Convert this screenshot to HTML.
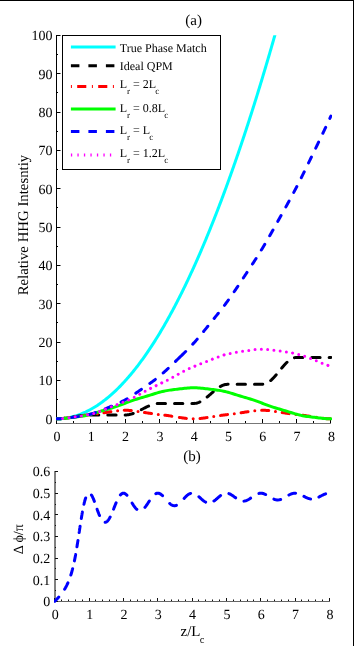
<!DOCTYPE html><html><head><meta charset="utf-8"><style>html,body{margin:0;padding:0;background:#fff;}svg{display:block;will-change:transform}text{font-family:"Liberation Serif",serif;fill:#000;text-rendering:geometricPrecision}</style></head><body>
<svg width="354" height="646" viewBox="0 0 354 646">
<rect x="0" y="0" width="354" height="646" fill="#fff"/>
<defs><clipPath id="cu"><rect x="56" y="35.20" width="276" height="388.30"/></clipPath>
<clipPath id="cl"><rect x="54" y="471.58" width="277" height="132.72"/></clipPath></defs>
<path d="M56,418.5h4.5 M56,380.5h4.5 M56,342.5h4.5 M56,303.5h4.5 M56,265.5h4.5 M56,227.5h4.5 M56,188.5h4.5 M56,150.5h4.5 M56,112.5h4.5 M56,73.5h4.5 M56,35.5h4.5 M56,399.5h2 M56,361.5h2 M56,322.5h2 M56,284.5h2 M56,246.5h2 M56,207.5h2 M56,169.5h2 M56,131.5h2 M56,92.5h2 M56,54.5h2 M56.5,423v-4 M90.5,423v-4 M125.5,423v-4 M159.5,423v-4 M193.5,423v-4 M228.5,423v-4 M262.5,423v-4 M296.5,423v-4 M330.5,423v-4 M73.5,423v-2 M107.5,423v-2 M142.5,423v-2 M176.5,423v-2 M210.5,423v-2 M245.5,423v-2 M279.5,423v-2 M313.5,423v-2" stroke="#000" stroke-width="1" fill="none"/>
<path d="M56.5,35.00 V423" stroke="#000" stroke-width="1"/>
<path d="M57,423.5 H331.0" stroke="#777" stroke-width="1"/>
<path d="M56,423 h1 v1 h-1z" fill="#000"/>
<g clip-path="url(#cu)" fill="none" stroke-width="3.0" stroke-linecap="round">
<path d="M56.50,418.80 L58.00,418.78 L59.51,418.73 L61.01,418.64 L62.50,418.51 L64.00,418.35 L65.49,418.15 L66.97,417.92 L68.45,417.65 L69.92,417.35 L71.39,417.02 L72.85,416.65 L74.30,416.25 L75.74,415.82 L77.17,415.36 L78.59,414.88 L80.00,414.36 L81.40,413.81 L82.79,413.24 L84.17,412.64 L85.54,412.02 L86.89,411.37 L88.24,410.70 L89.57,410.00 L90.89,409.29 L92.20,408.55 L93.50,407.79 L94.79,407.01 L96.06,406.21 L97.32,405.40 L98.57,404.56 L99.81,403.71 L101.04,402.85 L102.25,401.96 L103.46,401.06 L104.65,400.15 L105.84,399.22 L107.01,398.28 L108.17,397.33 L109.32,396.36 L110.46,395.38 L111.59,394.39 L112.71,393.39 L113.82,392.37 L114.92,391.35 L116.01,390.32 L117.09,389.27 L118.16,388.22 L119.23,387.15 L120.28,386.08 L121.32,385.00 L122.36,383.91 L123.39,382.82 L124.41,381.71 L125.42,380.60 L126.42,379.48 L127.42,378.35 L128.40,377.22 L129.38,376.08 L130.35,374.93 L131.32,373.78 L132.28,372.62 L133.22,371.45 L134.17,370.28 L135.10,369.11 L136.03,367.92 L136.95,366.74 L137.87,365.55 L138.78,364.35 L139.68,363.15 L140.58,361.94 L141.47,360.73 L142.35,359.52 L143.23,358.30 L144.11,357.07 L144.97,355.84 L145.83,354.61 L146.69,353.38 L147.54,352.14 L148.39,350.89 L149.22,349.65 L150.06,348.40 L150.89,347.14 L151.71,345.89 L152.53,344.63 L153.35,343.36 L154.16,342.10 L154.96,340.83 L155.76,339.55 L156.56,338.28 L157.35,337.00 L158.13,335.72 L158.92,334.44 L159.69,333.15 L160.47,331.86 L161.24,330.57 L162.00,329.28 L162.76,327.98 L163.52,326.68 L164.27,325.38 L165.02,324.08 L165.77,322.77 L166.51,321.46 L167.25,320.16 L167.98,318.84 L168.71,317.53 L169.44,316.21 L170.16,314.90 L170.88,313.58 L171.60,312.25 L172.31,310.93 L173.02,309.61 L173.72,308.28 L174.43,306.95 L175.13,305.62 L175.82,304.29 L176.51,302.95 L177.20,301.62 L177.89,300.28 L178.57,298.94 L179.25,297.60 L179.93,296.26 L180.61,294.92 L181.28,293.57 L181.95,292.23 L182.61,290.88 L183.28,289.53 L183.94,288.18 L184.59,286.83 L185.25,285.48 L185.90,284.12 L186.55,282.77 L187.20,281.41 L187.84,280.05 L188.48,278.69 L189.12,277.33 L189.76,275.97 L190.39,274.61 L191.03,273.24 L191.66,271.88 L192.28,270.51 L192.91,269.15 L193.53,267.78 L194.15,266.41 L194.77,265.04 L195.38,263.67 L195.99,262.29 L196.61,260.92 L197.21,259.55 L197.82,258.17 L198.42,256.79 L199.03,255.42 L199.63,254.04 L200.22,252.66 L200.82,251.28 L201.41,249.90 L202.01,248.52 L202.59,247.13 L203.18,245.75 L203.77,244.37 L204.35,242.98 L204.93,241.59 L205.51,240.21 L206.09,238.82 L206.67,237.43 L207.24,236.04 L207.81,234.65 L208.38,233.26 L208.95,231.87 L209.52,230.48 L210.08,229.09 L210.65,227.69 L211.21,226.30 L211.77,224.90 L212.32,223.51 L212.88,222.11 L213.43,220.71 L213.99,219.32 L214.54,217.92 L215.09,216.52 L215.64,215.12 L216.18,213.72 L216.73,212.32 L217.27,210.92 L217.81,209.51 L218.35,208.11 L218.89,206.71 L219.43,205.30 L219.96,203.90 L220.49,202.49 L221.03,201.09 L221.56,199.68 L222.09,198.27 L222.61,196.87 L223.14,195.46 L223.66,194.05 L224.19,192.64 L224.71,191.23 L225.23,189.82 L225.75,188.41 L226.27,187.00 L226.78,185.59 L227.30,184.18 L227.81,182.76 L228.32,181.35 L228.83,179.94 L229.34,178.52 L229.85,177.11 L230.36,175.69 L230.86,174.28 L231.37,172.86 L231.87,171.44 L232.37,170.03 L232.87,168.61 L233.37,167.19 L233.87,165.77 L234.36,164.35 L234.86,162.94 L235.35,161.52 L235.85,160.10 L236.34,158.68 L236.83,157.25 L237.32,155.83 L237.81,154.41 L238.29,152.99 L238.78,151.57 L239.26,150.14 L239.75,148.72 L240.23,147.30 L240.71,145.87 L241.19,144.45 L241.67,143.02 L242.15,141.60 L242.62,140.17 L243.10,138.75 L243.57,137.32 L244.05,135.90 L244.52,134.47 L244.99,133.04 L245.46,131.61 L245.93,130.19 L246.40,128.76 L246.87,127.33 L247.33,125.90 L247.80,124.47 L248.26,123.04 L248.72,121.61 L249.19,120.18 L249.65,118.75 L250.11,117.32 L250.57,115.89 L251.02,114.46 L251.48,113.02 L251.94,111.59 L252.39,110.16 L252.85,108.73 L253.30,107.29 L253.75,105.86 L254.20,104.43 L254.65,102.99 L255.10,101.56 L255.55,100.12 L256.00,98.69 L256.45,97.25 L256.89,95.82 L257.34,94.38 L257.78,92.95 L258.22,91.51 L258.67,90.07 L259.11,88.64 L259.55,87.20 L259.99,85.76 L260.43,84.32 L260.86,82.89 L261.30,81.45 L261.74,80.01 L262.17,78.57 L262.61,77.13 L263.04,75.69 L263.47,74.25 L263.91,72.81 L264.34,71.37 L264.77,69.93 L265.20,68.49 L265.63,67.05 L266.05,65.61 L266.48,64.17 L266.91,62.73 L267.33,61.29 L267.76,59.85 L268.18,58.40 L268.60,56.96 L269.03,55.52 L269.45,54.08 L269.87,52.63 L270.29,51.19 L270.71,49.75 L271.13,48.30 L271.54,46.86 L271.96,45.41 L272.38,43.97 L272.79,42.53 L273.21,41.08 L273.62,39.64 L274.04,38.19 L274.45,36.75 L274.86,35.30" stroke="#0ff"/>
<path d="M56.50,418.80 L57.50,418.79 L58.50,418.77 L59.50,418.73 L60.50,418.67 L61.50,418.60 L62.50,418.52 L63.50,418.42 L64.37,418.32 M73.28,416.95 L73.40,416.93 L74.38,416.75 L75.37,416.58 L76.36,416.41 L77.34,416.25 L78.33,416.09 L79.32,415.93 L80.31,415.78 L81.30,415.65 L81.46,415.63 M90.46,414.97 L91.29,414.97 L92.29,414.97 L93.29,414.97 L94.29,414.97 L95.29,414.97 L96.29,414.97 L97.29,414.97 L98.30,414.97 L98.76,414.97 M107.80,414.97 L108.31,414.97 L109.31,414.97 L110.31,414.97 L111.31,414.97 L112.31,414.97 L113.32,414.97 L114.32,414.97 L115.32,414.97 L116.10,414.97 M125.14,414.96 L125.33,414.96 L126.33,414.93 L127.33,414.84 L128.32,414.71 L129.31,414.54 L130.29,414.33 L131.26,414.07 L132.21,413.78 L133.16,413.46 L133.23,413.44 M141.31,409.70 L141.34,409.69 L142.22,409.22 L143.11,408.75 L144.00,408.29 L144.89,407.83 L145.78,407.38 L146.68,406.94 L147.58,406.51 L148.50,406.09 L148.61,406.04 M157.20,403.58 L158.11,403.50 L159.11,403.46 L160.11,403.46 L161.12,403.46 L162.12,403.46 L163.12,403.46 L164.12,403.46 L165.12,403.46 L165.50,403.46 M174.54,403.46 L175.14,403.46 L176.14,403.46 L177.14,403.46 L178.14,403.46 L179.14,403.46 L180.14,403.46 L181.14,403.46 L182.14,403.46 L182.84,403.46 M191.88,403.46 L192.16,403.46 L193.16,403.46 L194.16,403.45 L195.16,403.37 L196.15,403.22 L197.12,402.99 L198.08,402.69 L199.02,402.34 L199.91,401.95 M207.18,397.02 L207.36,396.87 L208.13,396.23 L208.89,395.58 L209.64,394.92 L210.40,394.26 L211.15,393.60 L211.90,392.94 L212.66,392.28 L213.25,391.77 M220.31,386.57 L220.70,386.34 L221.59,385.89 L222.50,385.47 L223.43,385.11 L224.38,384.80 L225.36,384.56 L226.34,384.39 L227.34,384.30 L228.12,384.29 M237.16,384.28 L237.35,384.28 L238.36,384.28 L239.36,384.28 L240.36,384.28 L241.36,384.28 L242.36,384.28 L243.36,384.28 L244.36,384.28 L245.36,384.28 L245.46,384.28 M254.50,384.28 L255.38,384.28 L256.38,384.28 L257.38,384.28 L258.38,384.28 L259.38,384.28 L260.39,384.28 L261.39,384.28 L262.39,384.28 L262.80,384.26 M270.68,380.51 L271.22,380.04 L271.95,379.36 L272.67,378.66 L273.37,377.94 L274.05,377.21 L274.73,376.47 L275.39,375.72 L276.04,374.96 L276.20,374.78 M281.68,368.12 L281.77,368.01 L282.42,367.24 L283.07,366.48 L283.72,365.72 L284.39,364.98 L285.07,364.24 L285.76,363.51 L286.47,362.80 L287.03,362.26 M294.48,357.70 L294.86,357.61 L295.85,357.47 L296.85,357.44 L297.85,357.44 L298.86,357.44 L299.86,357.44 L300.86,357.44 L301.86,357.44 L302.76,357.44 M311.80,357.44 L311.87,357.44 L312.88,357.44 L313.88,357.44 L314.88,357.44 L315.88,357.44 L316.88,357.44 L317.88,357.44 L318.88,357.44 L319.88,357.44 L320.10,357.44 M329.14,357.44 L329.90,357.44 L330.90,357.44" stroke="#000"/>
<path d="M56.78,418.80 L56.79,418.80 M63.37,418.44 L63.51,418.42 L64.50,418.31 L65.50,418.19 L66.49,418.06 L67.48,417.93 L68.48,417.78 L69.47,417.63 L70.39,417.48 M77.09,416.39 L77.10,416.39 M83.60,415.42 L84.33,415.33 L85.32,415.20 L86.32,415.07 L87.32,414.95 L88.31,414.83 L89.31,414.71 L90.30,414.60 L90.64,414.56 M97.38,413.74 L97.39,413.73 M103.90,412.79 L104.21,412.74 L105.20,412.58 L106.19,412.42 L107.18,412.26 L108.17,412.09 L109.16,411.93 L110.15,411.77 L110.89,411.65 M117.62,410.71 L117.63,410.71 M124.20,410.29 L125.10,410.28 L126.10,410.29 L127.11,410.31 L128.11,410.35 L129.11,410.41 L130.11,410.48 L131.11,410.56 L131.29,410.58 M138.02,411.44 L138.03,411.44 M144.52,412.50 L145.00,412.58 L145.99,412.74 L146.98,412.89 L147.97,413.05 L148.96,413.20 L149.95,413.34 L150.94,413.48 L151.53,413.56 M158.27,414.41 L158.28,414.41 M164.81,415.19 L164.88,415.20 L165.87,415.33 L166.86,415.46 L167.86,415.60 L168.85,415.74 L169.84,415.88 L170.83,416.03 L171.82,416.18 L171.83,416.18 M179.37,417.41 L179.74,417.47 L180.73,417.63 L181.72,417.78 L182.72,417.93 L183.71,418.06 L184.70,418.19 L185.70,418.31 L186.39,418.39 M193.17,418.80 L193.18,418.80 M200.02,418.49 L200.71,418.42 L201.70,418.31 L202.70,418.19 L203.69,418.06 L204.68,417.93 L205.68,417.78 L206.67,417.63 L207.04,417.57 M213.74,416.47 L213.75,416.47 M220.51,415.46 L220.54,415.46 L221.53,415.33 L222.52,415.20 L223.52,415.07 L224.52,414.95 L225.51,414.83 L226.51,414.71 L227.50,414.60 L227.55,414.59 M234.29,413.77 L234.30,413.77 M241.07,412.79 L241.41,412.74 L242.40,412.58 L243.39,412.42 L244.38,412.26 L245.37,412.09 L246.36,411.93 L247.35,411.77 L248.06,411.65 M254.79,410.71 L254.80,410.71 M261.63,410.28 L262.30,410.28 L263.30,410.29 L264.31,410.31 L265.31,410.35 L266.31,410.41 L267.31,410.48 L268.31,410.56 L268.71,410.60 M275.45,411.48 L275.46,411.48 M282.20,412.58 L283.19,412.74 L284.18,412.89 L285.17,413.05 L286.16,413.20 L287.15,413.34 L288.14,413.48 L289.14,413.62 L289.21,413.63 M295.95,414.46 L295.96,414.46 M302.75,415.29 L303.07,415.33 L304.06,415.46 L305.06,415.60 L306.05,415.74 L307.04,415.88 L308.03,416.03 L309.02,416.18 L309.77,416.30 M316.46,417.39 L316.47,417.40 M323.25,418.35 L323.89,418.42 L324.89,418.52 L325.89,418.60 L326.89,418.67 L327.89,418.73 L328.89,418.77 L329.90,418.79 L330.33,418.80" stroke="#f00"/>
<path d="M56.50,418.80 L58.00,418.78 L59.51,418.73 L61.01,418.64 L62.51,418.53 L64.01,418.39 L65.50,418.23 L67.00,418.06 L68.49,417.89 L69.98,417.71 L71.48,417.53 L72.97,417.35 L74.46,417.17 L75.96,416.99 L77.45,416.81 L78.94,416.61 L80.43,416.41 L81.92,416.18 L83.40,415.93 L84.88,415.66 L86.35,415.35 L87.82,415.02 L89.28,414.66 L90.73,414.27 L92.18,413.86 L93.62,413.43 L95.06,412.99 L96.50,412.54 L97.93,412.09 L99.37,411.64 L100.80,411.19 L102.24,410.75 L103.68,410.32 L105.12,409.89 L106.57,409.47 L108.01,409.05 L109.46,408.63 L110.90,408.21 L112.34,407.78 L113.78,407.34 L115.21,406.88 L116.64,406.41 L118.06,405.92 L119.48,405.41 L120.89,404.89 L122.30,404.36 L123.70,403.82 L125.10,403.27 L126.50,402.72 L127.90,402.18 L129.31,401.65 L130.72,401.13 L132.14,400.62 L133.56,400.13 L134.99,399.66 L136.42,399.20 L137.86,398.76 L139.30,398.33 L140.74,397.91 L142.19,397.49 L143.63,397.07 L145.08,396.65 L146.52,396.23 L147.96,395.79 L149.40,395.35 L150.83,394.90 L152.27,394.45 L153.70,394.00 L155.14,393.55 L156.58,393.11 L158.02,392.68 L159.47,392.27 L160.92,391.88 L162.38,391.52 L163.85,391.19 L165.32,390.89 L166.80,390.61 L168.28,390.36 L169.77,390.14 L171.26,389.93 L172.75,389.73 L174.24,389.55 L175.74,389.37 L177.23,389.19 L178.72,389.01 L180.22,388.83 L181.71,388.65 L183.20,388.48 L184.70,388.31 L186.19,388.15 L187.69,388.01 L189.19,387.90 L190.69,387.81 L192.20,387.76 L193.70,387.74 L195.20,387.76 L196.71,387.81 L198.21,387.90 L199.71,388.01 L201.21,388.15 L202.70,388.31 L204.20,388.48 L205.69,388.65 L207.18,388.83 L208.68,389.01 L210.17,389.19 L211.66,389.37 L213.16,389.55 L214.65,389.73 L216.14,389.93 L217.63,390.14 L219.12,390.36 L220.60,390.61 L222.08,390.89 L223.55,391.19 L225.02,391.52 L226.48,391.88 L227.93,392.27 L229.38,392.68 L230.82,393.11 L232.26,393.55 L233.70,394.00 L235.13,394.45 L236.57,394.90 L238.00,395.35 L239.44,395.79 L240.88,396.23 L242.32,396.65 L243.77,397.07 L245.21,397.49 L246.66,397.91 L248.10,398.33 L249.54,398.76 L250.98,399.20 L252.41,399.66 L253.84,400.13 L255.26,400.62 L256.68,401.13 L258.09,401.65 L259.50,402.18 L260.90,402.72 L262.30,403.27 L263.70,403.82 L265.10,404.36 L266.51,404.89 L267.92,405.41 L269.34,405.92 L270.76,406.41 L272.19,406.88 L273.62,407.34 L275.06,407.78 L276.50,408.21 L277.94,408.63 L279.39,409.05 L280.83,409.47 L282.28,409.89 L283.72,410.32 L285.16,410.75 L286.60,411.19 L288.03,411.64 L289.47,412.09 L290.90,412.54 L292.34,412.99 L293.78,413.43 L295.22,413.86 L296.67,414.27 L298.12,414.66 L299.58,415.02 L301.05,415.35 L302.52,415.66 L304.00,415.93 L305.48,416.18 L306.97,416.41 L308.46,416.61 L309.95,416.81 L311.44,416.99 L312.94,417.17 L314.43,417.35 L315.92,417.53 L317.42,417.71 L318.91,417.89 L320.40,418.06 L321.90,418.23 L323.39,418.39 L324.89,418.53 L326.39,418.64 L327.89,418.73 L329.40,418.78 L330.90,418.80" stroke="#0f0"/>
<path d="M56.50,418.80 L57.50,418.79 L58.50,418.77 L59.50,418.73 L60.50,418.67 L61.07,418.64 M71.52,417.43 L72.44,417.31 L73.43,417.17 L74.42,417.03 L75.41,416.89 L76.40,416.76 L77.40,416.62 L78.39,416.48 L78.45,416.47 M88.78,414.59 L89.21,414.49 L90.18,414.24 L91.15,413.97 L92.11,413.69 L93.07,413.40 L94.02,413.10 L94.97,412.78 L95.45,412.62 M105.16,408.83 L105.24,408.80 L106.16,408.41 L107.09,408.03 L108.01,407.65 L108.94,407.27 L109.86,406.88 L110.79,406.50 L111.55,406.18 M121.06,401.98 L121.77,401.63 L122.66,401.17 L123.55,400.71 L124.43,400.24 L125.31,399.76 L126.18,399.27 L127.05,398.77 L127.11,398.73 M135.79,393.19 L136.32,392.83 L137.15,392.26 L137.98,391.69 L138.80,391.13 L139.63,390.56 L140.45,389.99 L141.27,389.42 L141.41,389.33 M149.84,383.48 L150.32,383.14 L151.13,382.56 L151.95,381.97 L152.76,381.38 L153.56,380.79 L154.36,380.19 L155.16,379.59 L155.33,379.45 M163.20,372.96 L163.64,372.56 L164.39,371.90 L165.13,371.22 L165.87,370.55 L166.61,369.87 L167.34,369.18 L168.07,368.50 L168.17,368.40 M175.50,361.38 L176.02,360.88 L176.74,360.18 L177.46,359.49 L178.18,358.79 L178.90,358.09 L179.62,357.40 L180.34,356.70 L181.06,356.01 L181.78,355.31 L182.49,354.61 L183.21,353.91 L183.93,353.21 L184.64,352.51 L185.35,351.80 L185.68,351.48 M192.70,344.19 L192.99,343.87 L193.67,343.13 L194.34,342.39 L195.01,341.64 L195.67,340.90 L196.33,340.14 L196.99,339.39 L197.16,339.19 M203.62,331.47 L204.05,330.93 L204.68,330.16 L205.31,329.38 L205.94,328.60 L206.57,327.82 L207.20,327.04 L207.82,326.28 M214.12,318.45 L214.74,317.69 L215.36,316.91 L215.99,316.12 L216.62,315.34 L217.24,314.56 L217.87,313.78 L218.29,313.24 M224.45,305.31 L224.63,305.08 L225.23,304.28 L225.83,303.48 L226.42,302.68 L227.01,301.87 L227.61,301.06 L228.19,300.25 L228.40,299.96 M234.14,291.76 L234.50,291.23 L235.07,290.40 L235.63,289.57 L236.19,288.74 L236.74,287.90 L237.30,287.07 L237.84,286.26 M243.35,277.93 L243.38,277.89 L243.93,277.05 L244.48,276.22 L245.03,275.38 L245.58,274.54 L246.13,273.71 L246.69,272.87 L247.00,272.40 M252.48,264.05 L252.73,263.66 L253.28,262.83 L253.82,261.99 L254.37,261.14 L254.91,260.30 L255.45,259.46 L255.99,258.62 L256.07,258.49 M261.35,250.04 L261.82,249.27 L262.34,248.42 L262.85,247.56 L263.37,246.70 L263.88,245.84 L264.39,244.98 L264.75,244.37 M269.73,235.76 L269.91,235.45 L270.40,234.58 L270.90,233.71 L271.39,232.83 L271.88,231.96 L272.37,231.09 L272.86,230.22 L272.98,230.01 M277.83,221.34 L278.24,220.60 L278.72,219.73 L279.21,218.85 L279.70,217.98 L280.19,217.10 L280.68,216.23 L281.04,215.58 M285.87,206.90 L286.03,206.60 L286.52,205.73 L287.00,204.85 L287.48,203.98 L287.97,203.10 L288.45,202.22 L288.93,201.34 L289.05,201.12 M293.76,192.38 L294.15,191.65 L294.62,190.76 L295.09,189.87 L295.55,188.99 L296.01,188.10 L296.47,187.21 L296.82,186.55 M301.30,177.71 L301.46,177.39 L301.91,176.50 L302.36,175.60 L302.80,174.70 L303.24,173.80 L303.69,172.91 L304.13,172.01 L304.22,171.82 M308.56,162.91 L308.95,162.11 L309.39,161.21 L309.83,160.30 L310.26,159.40 L310.70,158.50 L311.13,157.60 L311.42,157.00 M315.73,148.08 L315.93,147.68 L316.36,146.78 L316.80,145.88 L317.23,144.98 L317.67,144.08 L318.10,143.18 L318.54,142.27 L318.59,142.17 M322.87,133.24 L323.30,132.34 L323.73,131.44 L324.16,130.53 L324.59,129.63 L325.02,128.72 L325.44,127.82 L325.68,127.30 M329.84,118.33 L330.07,117.82 L330.49,116.91 L330.90,116.00" stroke="#00f"/>
<path d="M62.67,418.51 L62.68,418.51 M68.93,417.75 L68.94,417.75 M75.16,416.84 L75.17,416.84 M81.39,415.91 L81.40,415.91 M87.59,414.84 L87.60,414.84 M93.70,413.38 L93.71,413.38 M99.65,411.45 L99.66,411.45 M105.48,409.21 L105.49,409.20 M111.26,406.86 L111.27,406.86 M117.06,404.58 L117.07,404.57 M122.88,402.30 L122.89,402.30 M128.62,399.88 L128.63,399.88 M134.22,397.19 L134.23,397.19 M139.69,394.28 L139.70,394.27 M145.10,391.28 L145.11,391.28 M150.57,388.36 L150.58,388.35 M156.12,385.58 L156.13,385.57 M161.72,382.89 L161.73,382.88 M167.28,380.13 L167.29,380.13 M172.76,377.23 L172.77,377.23 M178.18,374.24 L178.19,374.23 M183.63,371.29 L183.64,371.29 M189.21,368.56 L189.21,368.56 M194.93,366.10 L194.94,366.09 M200.73,363.81 L200.74,363.81 M206.54,361.53 L206.55,361.53 M212.33,359.20 L212.34,359.19 M218.14,356.91 L218.15,356.91 M224.06,354.92 L224.07,354.91 M230.15,353.38 L230.16,353.38 M236.34,352.26 L236.35,352.26 M242.57,351.32 L242.58,351.32 M248.80,350.40 L248.81,350.40 M255.05,349.60 L255.06,349.60 M261.34,349.21 L261.35,349.21 M267.65,349.42 L267.66,349.42 M273.91,350.13 L273.92,350.13 M280.14,351.04 L280.15,351.04 M286.37,351.97 L286.38,351.97 M292.58,353.00 L292.59,353.01 M298.71,354.40 L298.72,354.40 M304.68,356.27 L304.69,356.27 M310.52,358.49 L310.53,358.49 M316.30,360.83 L316.31,360.83 M322.10,363.13 L322.11,363.13 M327.92,365.39 L327.93,365.40" stroke="#f0f"/>
</g>
<rect x="62.5" y="35.5" width="158" height="134" fill="#fff" stroke="#000" stroke-width="1"/>
<path d="M70.9,47.0 H115.6" stroke="#0ff" stroke-width="3.0"/>
<path d="M70.9,65.8 H115.6" stroke="#000" stroke-width="3.0" stroke-dasharray="8.5 9"/>
<path d="M70.9,86.5 H115.6" stroke="#f00" stroke-width="3.0" stroke-dasharray="1 5.3 9.1 5.6"/>
<path d="M70.9,109.1 H115.6" stroke="#0f0" stroke-width="3.0"/>
<path d="M70.9,131.6 H115.6" stroke="#00f" stroke-width="3.0" stroke-dasharray="8.5 9"/>
<path d="M70.9,154.9 H115.6" stroke="#f0f" stroke-width="3.0" stroke-dasharray="1.3 5.2"/>
<text x="119.8" y="52" font-size="12">True Phase Match</text>
<text x="119.8" y="70" font-size="12">Ideal QPM</text>
<text x="119.8" y="88" font-size="12">L<tspan font-size="9" dx="-0.2" dy="6.0">r</tspan><tspan dy="-6.0"> = 2L</tspan><tspan font-size="9" dx="-0.7" dy="6.0">c</tspan></text>
<text x="119.8" y="111.5" font-size="12">L<tspan font-size="9" dx="-0.2" dy="6.0">r</tspan><tspan dy="-6.0"> = 0.8L</tspan><tspan font-size="9" dx="-0.7" dy="6.0">c</tspan></text>
<text x="119.8" y="134" font-size="12">L<tspan font-size="9" dx="-0.2" dy="6.0">r</tspan><tspan dy="-6.0"> = L</tspan><tspan font-size="9" dx="-0.7" dy="6.0">c</tspan></text>
<text x="119.8" y="157" font-size="12">L<tspan font-size="9" dx="-0.2" dy="6.0">r</tspan><tspan dy="-6.0"> = 1.2L</tspan><tspan font-size="9" dx="-0.7" dy="6.0">c</tspan></text>
<text x="52.5" y="423.70" font-size="14" text-anchor="end">0</text>
<text x="52.5" y="385.35" font-size="14" text-anchor="end">10</text>
<text x="52.5" y="347.00" font-size="14" text-anchor="end">20</text>
<text x="52.5" y="308.65" font-size="14" text-anchor="end">30</text>
<text x="52.5" y="270.30" font-size="14" text-anchor="end">40</text>
<text x="52.5" y="231.95" font-size="14" text-anchor="end">50</text>
<text x="52.5" y="193.60" font-size="14" text-anchor="end">60</text>
<text x="52.5" y="155.25" font-size="14" text-anchor="end">70</text>
<text x="52.5" y="116.90" font-size="14" text-anchor="end">80</text>
<text x="52.5" y="78.55" font-size="14" text-anchor="end">90</text>
<text x="52.5" y="40.20" font-size="14" text-anchor="end">100</text>
<text x="57.00" y="441" font-size="14" text-anchor="middle">0</text>
<text x="91.30" y="441" font-size="14" text-anchor="middle">1</text>
<text x="125.60" y="441" font-size="14" text-anchor="middle">2</text>
<text x="159.90" y="441" font-size="14" text-anchor="middle">3</text>
<text x="194.20" y="441" font-size="14" text-anchor="middle">4</text>
<text x="228.50" y="441" font-size="14" text-anchor="middle">5</text>
<text x="262.80" y="441" font-size="14" text-anchor="middle">6</text>
<text x="297.10" y="441" font-size="14" text-anchor="middle">7</text>
<text x="331.40" y="441" font-size="14" text-anchor="middle">8</text>
<text x="193.6" y="24.9" font-size="15" text-anchor="middle">(a)</text>
<text transform="translate(28,225.1) rotate(-90)" font-size="14.8" text-anchor="middle">Relative HHG Intesntiy</text>
<rect x="54" y="471.0" width="2" height="131.0" fill="#808080"/>
<rect x="56" y="601" width="274.0" height="1" fill="#666"/>
<path d="M55,601.5h3 M55,579.5h3 M55,558.5h3 M55,536.5h3 M55,514.5h3 M55,493.5h3 M55,471.5h3 M55,590.5h1 M55,568.5h1 M55,547.5h1 M55,525.5h1 M55,504.5h1 M55,482.5h1 M54.5,601v-3 M89.5,601v-3 M123.5,601v-3 M157.5,601v-3 M192.5,601v-3 M226.5,601v-3 M260.5,601v-3 M295.5,601v-3 M329.5,601v-3 M61.5,601v-1.5 M68.5,601v-1.5 M75.5,601v-1.5 M82.5,601v-1.5 M95.5,601v-1.5 M102.5,601v-1.5 M109.5,601v-1.5 M116.5,601v-1.5 M130.5,601v-1.5 M137.5,601v-1.5 M144.5,601v-1.5 M150.5,601v-1.5 M164.5,601v-1.5 M171.5,601v-1.5 M178.5,601v-1.5 M185.5,601v-1.5 M198.5,601v-1.5 M205.5,601v-1.5 M212.5,601v-1.5 M219.5,601v-1.5 M233.5,601v-1.5 M240.5,601v-1.5 M247.5,601v-1.5 M253.5,601v-1.5 M267.5,601v-1.5 M274.5,601v-1.5 M281.5,601v-1.5 M288.5,601v-1.5 M301.5,601v-1.5 M308.5,601v-1.5 M315.5,601v-1.5 M322.5,601v-1.5" stroke="#111" stroke-width="1" fill="none"/>
<g clip-path="url(#cl)" fill="none" stroke-width="3.0" stroke-linecap="round">
<path d="M54.80,601.30 L55.13,600.95 L55.47,600.59 L55.82,600.23 L56.16,599.86 L56.50,599.50 L56.85,599.14 L57.19,598.77 L57.53,598.40 L57.87,598.03 L58.20,597.66 L58.54,597.29 L58.78,597.02 M64.64,589.19 L64.82,588.89 L65.07,588.46 L65.33,588.02 L65.57,587.59 L65.81,587.15 L66.05,586.71 L66.29,586.27 L66.52,585.82 L66.74,585.38 L66.97,584.93 L67.18,584.48 L67.40,584.03 L67.61,583.57 L67.81,583.12 L67.92,582.87 M70.84,575.04 L70.95,574.68 L71.10,574.20 L71.25,573.72 L71.39,573.24 L71.53,572.76 L71.67,572.28 L71.81,571.80 L71.94,571.32 L72.07,570.84 L72.20,570.35 L72.33,569.87 L72.46,569.39 L72.58,568.90 L72.63,568.72 M74.41,560.88 L74.47,560.61 L74.57,560.12 L74.67,559.63 L74.77,559.14 L74.86,558.65 L74.96,558.15 L75.06,557.66 L75.15,557.17 L75.24,556.68 L75.34,556.19 L75.43,555.70 L75.52,555.20 L75.61,554.71 L75.63,554.56 M76.97,546.73 L77.04,546.33 L77.12,545.83 L77.20,545.34 L77.28,544.85 L77.35,544.35 L77.43,543.86 L77.51,543.36 L77.59,542.87 L77.66,542.37 L77.74,541.88 L77.82,541.38 L77.89,540.89 L77.97,540.41 M79.15,532.58 L79.16,532.48 L79.23,531.98 L79.31,531.49 L79.38,530.99 L79.46,530.50 L79.53,530.00 L79.60,529.51 L79.68,529.01 L79.75,528.52 L79.82,528.02 L79.90,527.53 L79.97,527.03 L80.05,526.54 L80.09,526.26 M81.30,518.43 L81.35,518.13 L81.43,517.64 L81.51,517.15 L81.59,516.65 L81.67,516.16 L81.75,515.66 L81.83,515.17 L81.92,514.68 L82.00,514.18 L82.09,513.69 L82.17,513.20 L82.26,512.70 L82.35,512.21 L82.36,512.11 M83.93,504.28 L84.02,503.87 L84.14,503.39 L84.25,502.90 L84.37,502.41 L84.50,501.93 L84.62,501.44 L84.75,500.96 L84.89,500.48 L85.02,500.00 L85.17,499.52 L85.32,499.04 L85.47,498.56 L85.63,498.09 L85.68,497.96 M91.46,495.06 L91.52,495.14 L91.79,495.57 L92.03,496.00 L92.27,496.44 L92.49,496.89 L92.71,497.34 L92.92,497.79 L93.12,498.25 L93.32,498.71 L93.51,499.17 L93.70,499.64 L93.88,500.10 L94.06,500.57 L94.24,501.04 L94.37,501.38 M97.11,509.21 L97.22,509.54 L97.39,510.01 L97.56,510.48 L97.73,510.95 L97.90,511.42 L98.07,511.89 L98.24,512.36 L98.42,512.83 L98.60,513.30 L98.78,513.76 L98.96,514.23 L99.15,514.69 L99.34,515.15 L99.50,515.53 M105.12,522.31 L105.48,522.28 L105.96,522.14 L106.41,521.91 L106.82,521.63 L107.21,521.31 L107.56,520.96 L107.89,520.58 L108.20,520.19 L108.50,519.79 L108.78,519.37 L109.05,518.95 L109.31,518.52 L109.56,518.09 L109.80,517.65 L110.03,517.21 L110.16,516.96 M113.55,509.13 L113.62,508.95 L113.81,508.49 L113.99,508.02 L114.17,507.56 L114.36,507.09 L114.54,506.63 L114.73,506.16 L114.91,505.70 L115.10,505.23 L115.29,504.77 L115.48,504.30 L115.67,503.84 L115.86,503.38 L116.05,502.92 L116.10,502.81 M120.38,494.98 L120.67,494.66 L121.03,494.31 L121.41,493.99 L121.82,493.70 L122.26,493.47 L122.73,493.30 L123.22,493.21 L123.72,493.21 L124.22,493.30 L124.69,493.47 L125.13,493.70 L125.55,493.97 L125.95,494.28 L126.32,494.61 L126.68,494.96 L126.95,495.26 M132.12,503.10 L132.22,503.27 L132.49,503.70 L132.75,504.12 L133.02,504.54 L133.28,504.97 L133.56,505.39 L133.84,505.80 L134.12,506.21 L134.41,506.62 L134.71,507.02 L135.01,507.42 L135.33,507.81 L135.65,508.19 L135.99,508.56 L136.34,508.92 L136.71,509.26 L136.87,509.39 M144.95,507.38 L145.06,507.24 L145.37,506.85 L145.68,506.45 L145.97,506.05 L146.26,505.64 L146.55,505.23 L146.83,504.82 L147.11,504.40 L147.39,503.98 L147.67,503.57 L147.94,503.15 L148.21,502.73 L148.48,502.31 L148.75,501.89 L149.02,501.47 L149.29,501.06 M155.83,493.68 L155.88,493.65 L156.34,493.46 L156.82,493.32 L157.31,493.23 L157.81,493.20 L158.31,493.23 L158.80,493.32 L159.28,493.47 L159.74,493.65 L160.19,493.88 L160.62,494.13 L161.03,494.41 L161.43,494.71 L161.82,495.03 L162.20,495.36 L162.53,495.67 M169.70,503.48 L170.03,503.77 L170.42,504.09 L170.83,504.39 L171.24,504.66 L171.67,504.92 L172.12,505.15 L172.57,505.35 L173.05,505.51 L173.54,505.62 L174.03,505.69 L174.53,505.71 L175.03,505.67 L175.52,505.59 L176.01,505.46 L176.40,505.32 M184.13,498.39 L184.21,498.30 L184.55,497.93 L184.89,497.57 L185.24,497.21 L185.59,496.85 L185.94,496.50 L186.30,496.15 L186.67,495.81 L187.05,495.48 L187.43,495.16 L187.83,494.86 L188.24,494.57 L188.66,494.29 L189.09,494.04 L189.53,493.81 L189.99,493.62 L190.47,493.45 L190.63,493.41 M198.93,496.76 L199.29,497.07 L199.66,497.41 L200.03,497.74 L200.40,498.08 L200.77,498.42 L201.14,498.75 L201.51,499.09 L201.89,499.42 L202.27,499.74 L202.65,500.06 L203.04,500.38 L203.44,500.69 L203.84,500.98 L204.25,501.27 L204.67,501.54 L205.10,501.80 L205.54,502.04 L205.63,502.09 M213.93,501.04 L213.96,501.02 L214.36,500.73 L214.76,500.43 L215.16,500.12 L215.55,499.81 L215.93,499.49 L216.31,499.16 L216.69,498.84 L217.07,498.51 L217.45,498.18 L217.83,497.85 L218.20,497.52 L218.58,497.20 L218.96,496.87 L219.35,496.55 L219.73,496.23 L220.13,495.92 L220.52,495.62 L220.63,495.54 M228.93,493.64 L229.36,493.80 L229.82,493.99 L230.27,494.21 L230.72,494.44 L231.15,494.68 L231.58,494.94 L232.00,495.21 L232.42,495.49 L232.83,495.77 L233.24,496.06 L233.65,496.35 L234.05,496.65 L234.45,496.95 L234.86,497.24 L235.26,497.54 L235.63,497.81 M243.93,501.13 L244.33,501.09 L244.82,501.01 L245.31,500.90 L245.79,500.76 L246.26,500.60 L246.73,500.41 L247.18,500.21 L247.63,499.99 L248.07,499.75 L248.51,499.51 L248.94,499.25 L249.36,498.98 L249.78,498.71 L250.19,498.43 L250.61,498.14 L250.63,498.13 M258.93,493.41 L259.29,493.34 L259.78,493.26 L260.28,493.22 L260.78,493.20 L261.28,493.22 L261.78,493.26 L262.27,493.33 L262.76,493.44 L263.25,493.56 L263.73,493.71 L264.20,493.88 L264.66,494.07 L265.12,494.27 L265.57,494.49 L265.63,494.52 M273.93,499.17 L274.31,499.32 L274.79,499.48 L275.27,499.62 L275.76,499.73 L276.25,499.82 L276.74,499.89 L277.24,499.93 L277.74,499.94 L278.24,499.92 L278.74,499.88 L279.24,499.80 L279.73,499.71 L280.21,499.58 L280.63,499.46 M288.93,495.05 L289.06,494.97 L289.51,494.74 L289.96,494.52 L290.41,494.31 L290.87,494.11 L291.33,493.93 L291.81,493.76 L292.28,493.61 L292.77,493.49 L293.26,493.38 L293.75,493.30 L294.25,493.24 L294.75,493.21 L295.25,493.20 L295.63,493.22 M303.93,496.35 L304.08,496.43 L304.52,496.67 L304.97,496.90 L305.41,497.13 L305.86,497.35 L306.31,497.57 L306.77,497.78 L307.23,497.97 L307.69,498.16 L308.16,498.33 L308.63,498.49 L309.11,498.63 L309.60,498.75 L310.09,498.86 L310.58,498.94 L310.63,498.94 M318.93,497.03 L319.20,496.90 L319.64,496.67 L320.09,496.43 L320.53,496.20 L320.97,495.97 L321.41,495.74 L321.86,495.50 L322.30,495.28 L322.75,495.05 L323.20,494.84 L323.66,494.63 L324.11,494.43 L324.58,494.23 L325.04,494.05 L325.51,493.89 L325.63,493.85" stroke="#00f"/>
</g>
<text x="50.3" y="606.20" font-size="14" text-anchor="end">0</text>
<text x="50.3" y="584.58" font-size="14" text-anchor="end">0.1</text>
<text x="50.3" y="562.96" font-size="14" text-anchor="end">0.2</text>
<text x="50.3" y="541.34" font-size="14" text-anchor="end">0.3</text>
<text x="50.3" y="519.72" font-size="14" text-anchor="end">0.4</text>
<text x="50.3" y="498.10" font-size="14" text-anchor="end">0.5</text>
<text x="50.3" y="476.48" font-size="14" text-anchor="end">0.6</text>
<text x="55.30" y="618.8" font-size="14" text-anchor="middle">0</text>
<text x="89.63" y="618.8" font-size="14" text-anchor="middle">1</text>
<text x="123.96" y="618.8" font-size="14" text-anchor="middle">2</text>
<text x="158.29" y="618.8" font-size="14" text-anchor="middle">3</text>
<text x="192.62" y="618.8" font-size="14" text-anchor="middle">4</text>
<text x="226.95" y="618.8" font-size="14" text-anchor="middle">5</text>
<text x="261.28" y="618.8" font-size="14" text-anchor="middle">6</text>
<text x="295.61" y="618.8" font-size="14" text-anchor="middle">7</text>
<text x="329.94" y="618.8" font-size="14" text-anchor="middle">8</text>
<text x="192" y="461.2" font-size="15" text-anchor="middle">(b)</text>
<text transform="translate(22.7,539.2) rotate(-90)" font-size="14" text-anchor="middle">&#916; &#981;/&#960;</text>
<text x="180.5" y="635.8" font-size="15">z/L<tspan font-size="10.5" dx="-0.8" dy="6.8">c</tspan></text>
<rect x="0" y="0" width="354" height="1" fill="#000"/>
<rect x="353" y="0" width="1" height="646" fill="#000"/>
</svg></body></html>
